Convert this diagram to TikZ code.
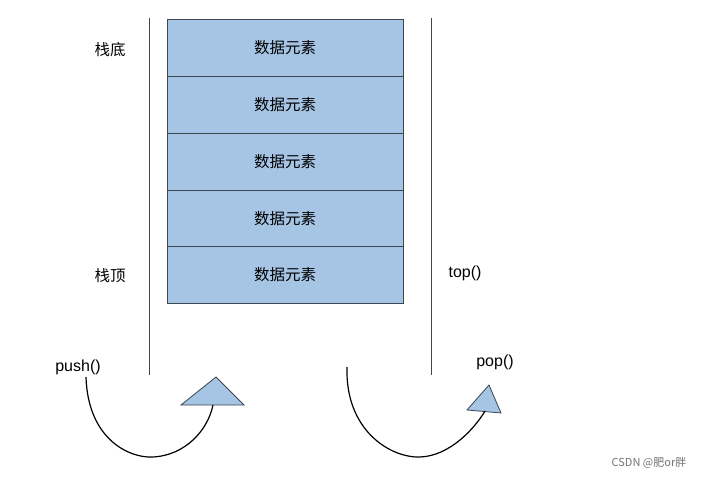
\documentclass[tikz,border=0pt]{standalone}
\usepackage{fontspec}
\setmainfont{Liberation Sans}
\newfontfamily\cjk{Noto Sans CJK SC}
\definecolor{boxblue}{HTML}{A6C4E4}
\definecolor{edge}{HTML}{3C4650}
\begin{document}
\begin{tikzpicture}[x=1pt,y=-1pt,
  cell/.style={draw=edge,fill=boxblue,line width=0.8pt,minimum width=236pt,minimum height=57pt,inner sep=0pt,font=\cjk\fontsize{15.5}{15.5}\selectfont},
  lbl/.style={font=\fontsize{16}{16}\selectfont,inner sep=0pt},
  tri/.style={draw=edge,fill=boxblue,line width=0.8pt},
  arc/.style={line width=1.2pt,black}]
\useasboundingbox (0,0) rectangle (709,478);
\draw[edge,line width=0.8pt] (149,18) -- (149,375);
\draw[edge,line width=0.8pt] (431,18) -- (431,375);
\foreach \i/\y in {1/48,2/104.5,3/161.5,4/218.5,5/275}
  \node[cell] (c\i) at (285,\y) {数据元素};
\node[lbl,font=\cjk\fontsize{15.5}{15.5}\selectfont] (bot) at (110,50) {栈底};
\node[lbl,font=\cjk\fontsize{15.5}{15.5}\selectfont] (topl) at (110,276) {栈顶};
\node[lbl] (top) at (465,273) {top()};
\node[lbl] (push) at (78,367) {push()};
\node[lbl] (pop) at (495,362) {pop()};
\draw[tri] (181,405) -- (244,405) -- (216,377) -- cycle;
\draw[tri] (467,410) -- (501,413) -- (489,385) -- cycle;
\coordinate (ps) at (86,377);
\coordinate (pe) at (213,405);
\coordinate (os) at (347,367);
\coordinate (oe) at (485,411);
\draw[arc] (ps) .. controls (88,440) and (130,458) .. (152,457) .. controls (185,456) and (208,430) .. (pe);
\draw[arc] (os) .. controls (345,430) and (390,458) .. (420,457) .. controls (450,456) and (475,428) .. (oe);
\node[font=\cjk\fontsize{11}{11}\selectfont,text=gray!90!black] (wm) at (649,463) {CSDN @肥or胖};
\end{tikzpicture}
\end{document}
